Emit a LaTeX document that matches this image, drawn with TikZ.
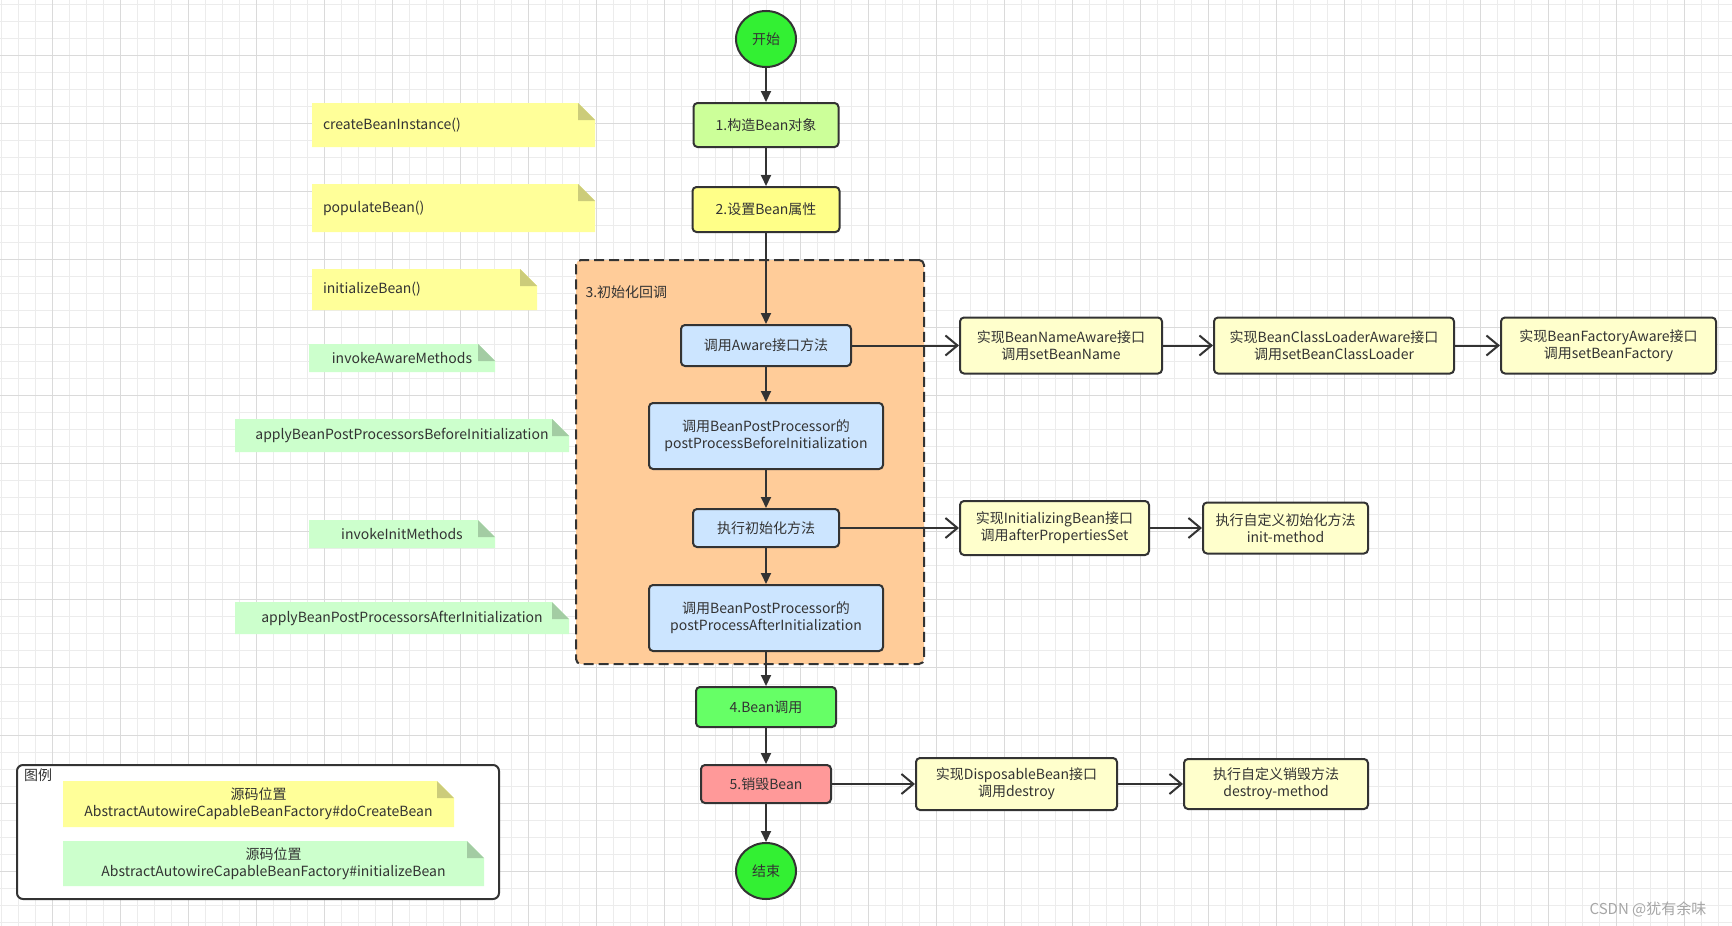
\documentclass[tikz,border=0pt]{standalone}
\usepackage{fontspec}
\setmainfont{Noto Sans CJK SC}
\usetikzlibrary{shapes.geometric,arrows.meta}

\definecolor{ink}{RGB}{51,51,51}
\definecolor{gridminor}{RGB}{236,236,236}
\definecolor{gridmajor}{RGB}{218,218,218}
\definecolor{startgreen}{RGB}{51,240,51}
\definecolor{buildgreen}{RGB}{204,255,153}
\definecolor{propyellow}{RGB}{255,255,136}
\definecolor{callbackorange}{RGB}{255,204,153}
\definecolor{stepblue}{RGB}{204,229,255}
\definecolor{sidecream}{RGB}{255,255,204}
\definecolor{usegreen}{RGB}{102,255,102}
\definecolor{destroyred}{RGB}{255,153,153}
\definecolor{noteyellow}{RGB}{255,255,153}
\definecolor{noteyellowfold}{RGB}{204,204,122}
\definecolor{notegreen}{RGB}{204,255,204}
\definecolor{notegreenfold}{RGB}{163,204,163}

\begin{document}
\begin{tikzpicture}[
    x=1pt, y=-1pt,
    font=\fontsize{14}{17}\selectfont,
    every node/.style={text=ink},
    terminal/.style={ellipse, draw=ink, line width=2pt, fill=startgreen, minimum width=60pt, minimum height=56pt, inner sep=0pt},
    stepbox/.style={rectangle, rounded corners=4pt, draw=ink, line width=2pt, align=center, inner sep=0pt},
    sidebox/.style={stepbox, fill=sidecream},
    notefill/.style 2 args={rectangle, inner sep=0pt, path picture={
        \fill[#1] (path picture bounding box.south west) -- (path picture bounding box.north west)
          -- ([xshift=-17pt]path picture bounding box.north east)
          -- ([yshift=-17pt]path picture bounding box.north east)
          -- (path picture bounding box.south east) -- cycle;
        \fill[#2] ([xshift=-17pt]path picture bounding box.north east)
          -- ([xshift=-17pt,yshift=-17pt]path picture bounding box.north east)
          -- ([yshift=-17pt]path picture bounding box.north east) -- cycle;}},
    ynote/.style={notefill={noteyellow}{noteyellowfold}},
    gnote/.style={notefill={notegreen}{notegreenfold}, align=center},
    flow/.style={draw=ink, line width=2pt, -{Triangle[length=11pt,width=10pt]}},
    branch/.style={draw=ink, line width=2pt, -{Straight Barb[length=12pt,width=20pt]}}
  ]

  \fill[white] (0,0) rectangle (1732,926);
  \useasboundingbox (0,0) rectangle (1732,926);
  \foreach \gx in {0,...,101} \draw[gridminor, line width=0.8pt] ({1+17*\gx},0) -- ({1+17*\gx},926);
  \foreach \gy in {0,...,54} \draw[gridminor, line width=0.8pt] (0,{4+17*\gy}) -- (1732,{4+17*\gy});
  \foreach \gx in {0,...,24} \draw[gridmajor, line width=0.8pt] ({52+68*\gx},0) -- ({52+68*\gx},926);
  \foreach \gy in {0,...,12} \draw[gridmajor, line width=0.8pt] (0,{55+68*\gy}) -- (1732,{55+68*\gy});

  % main flow
  \node[terminal] (start) at (766,39) {开始};
  \node[stepbox, fill=buildgreen, minimum width=145pt, minimum height=44pt] (construct) at (766,125) {1.构造Bean对象};
  \node[stepbox, fill=propyellow, minimum width=147pt, minimum height=45pt] (populate) at (766,209.5) {2.设置Bean属性};
  \node[stepbox, rounded corners=5pt, dash pattern=on 10pt off 5pt, fill=callbackorange, minimum width=348pt, minimum height=404pt] (initcb) at (750,462) {};
  \node[anchor=west] (initcbtitle) at (582,292) {3.初始化回调};
  \node[stepbox, fill=stepblue, minimum width=170pt, minimum height=41pt] (aware) at (766,345.5) {调用Aware接口方法};
  \node[stepbox, fill=stepblue, minimum width=234pt, minimum height=66pt] (bppbefore) at (766,436) {调用BeanPostProcessor的\\postProcessBeforeInitialization};
  \node[stepbox, fill=stepblue, minimum width=146pt, minimum height=38pt] (initm) at (766,528) {执行初始化方法};
  \node[stepbox, fill=stepblue, minimum width=234pt, minimum height=66pt] (bppafter) at (766,618) {调用BeanPostProcessor的\\postProcessAfterInitialization};
  \node[stepbox, fill=usegreen, minimum width=140pt, minimum height=40pt] (use) at (766,707) {4.Bean调用};
  \node[stepbox, fill=destroyred, minimum width=130pt, minimum height=38pt] (destroy) at (766,784) {5.销毁Bean};
  \node[terminal] (finish) at (766,871) {结束};

  % side steps
  \node[sidebox, minimum width=202pt, minimum height=56pt] (namea) at (1061,345.5) {实现BeanNameAware接口\\调用setBeanName};
  \node[sidebox, minimum width=240pt, minimum height=56pt] (classa) at (1334,345.5) {实现BeanClassLoaderAware接口\\调用setBeanClassLoader};
  \node[sidebox, minimum width=215pt, minimum height=56pt] (factorya) at (1608.5,345.5) {实现BeanFactoryAware接口\\调用setBeanFactory};
  \node[sidebox, minimum width=189pt, minimum height=54pt] (initbean) at (1054.5,528) {实现InitializingBean接口\\调用afterPropertiesSet};
  \node[sidebox, minimum width=165pt, minimum height=51pt] (initmethod) at (1285.5,528) {执行自定义初始化方法\\init-method};
  \node[sidebox, minimum width=201pt, minimum height=52pt] (dispbean) at (1016.5,784) {实现DisposableBean接口\\调用destroy};
  \node[sidebox, minimum width=184pt, minimum height=50pt] (destroymethod) at (1276,784) {执行自定义销毁方法\\destroy-method};

  % source notes
  \node[ynote, minimum width=283pt, minimum height=44pt, text width=261pt, inner xsep=11pt, align=left] (ncreate) at (453.5,125) {createBeanInstance()};
  \node[ynote, minimum width=283pt, minimum height=48pt, text width=261pt, inner xsep=11pt, align=left] (npopulate) at (453.5,208) {populateBean()};
  \node[ynote, minimum width=225pt, minimum height=41pt, text width=203pt, inner xsep=11pt, align=left] (ninit) at (424.5,289.5) {initializeBean()};
  \node[gnote, minimum width=186pt, minimum height=28pt] (nawaremeth) at (402,358) {invokeAwareMethods};
  \node[gnote, minimum width=334pt, minimum height=33pt] (nbefore) at (402,435.5) {applyBeanPostProcessorsBeforeInitialization};
  \node[gnote, minimum width=186pt, minimum height=28pt] (ninvoke) at (402,534) {invokeInitMethods};
  \node[gnote, minimum width=334pt, minimum height=32pt] (nafter) at (402,618) {applyBeanPostProcessorsAfterInitialization};

  % legend
  \node[rectangle, rounded corners=6pt, draw=ink, line width=2pt, fill=white, minimum width=482pt, minimum height=134pt] (legend) at (258,832) {};
  \node[anchor=north west, inner sep=1pt] (legendtitle) at (23,768) {图例};
  \node[ynote, align=center, minimum width=391pt, minimum height=46pt] (lyellow) at (258.5,804) {源码位置\\AbstractAutowireCapableBeanFactory\#doCreateBean};
  \node[gnote, minimum width=421pt, minimum height=45pt] (lgreen) at (273.5,863.5) {源码位置\\AbstractAutowireCapableBeanFactory\#initializeBean};

  \node[text=gray!70, font=\fontsize{15}{18}\selectfont] (mark) at (1648,909) {CSDN @犹有余味};

  \draw[flow] (start) -- (construct);
  \draw[flow] (construct) -- (populate);
  \draw[flow] (populate) -- (aware);
  \draw[flow] (aware) -- (bppbefore);
  \draw[flow] (bppbefore) -- (initm);
  \draw[flow] (initm) -- (bppafter);
  \draw[flow] (bppafter) -- (use);
  \draw[flow] (use) -- (destroy);
  \draw[flow] (destroy) -- (finish);
  \draw[branch] (aware) -- (namea);
  \draw[branch] (namea) -- (classa);
  \draw[branch] (classa) -- (factorya);
  \draw[branch] (initm) -- (initbean);
  \draw[branch] (initbean) -- (initmethod);
  \draw[branch] (destroy) -- (dispbean);
  \draw[branch] (dispbean) -- (destroymethod);
\end{tikzpicture}
\end{document}
